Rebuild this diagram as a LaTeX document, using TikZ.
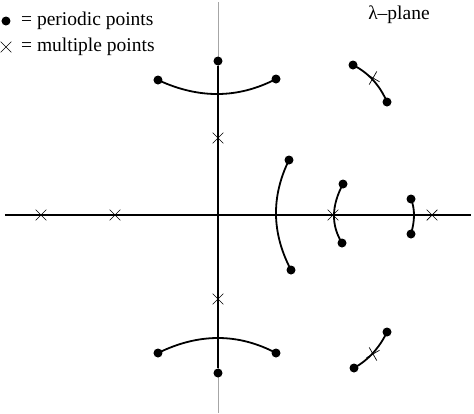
\documentclass[tikz,border=0pt]{standalone}
\usepackage{fontspec}
\setmainfont{Liberation Serif}
\usetikzlibrary{shapes.misc}
\begin{document}
\begin{tikzpicture}[x=1pt,y=1pt,
  dot/.style={circle,fill,inner sep=0pt,minimum size=9pt},
  mult/.style={cross out,draw,inner sep=0pt,minimum size=10pt,line width=0.7pt},
  curve/.style={line width=1.8pt},
  lbl/.style={font=\fontsize{19.5}{22}\selectfont,inner sep=0pt}]
\useasboundingbox (-218,-198) rectangle (256,215);

% axes
\coordinate (ytop) at (0,213);
\coordinate (ybot) at (0,-198);
\coordinate (xleft) at (-213,0);
\coordinate (xright) at (253,0);
\draw [gray!70, line width=0.8pt] (ytop) -- (ybot);
\draw [curve] (xleft) -- (xright);

% periodic points
\node [dot] (n) at (0,154) {};
\node [dot] (s) at (0,-158) {};
\node [dot] (ua) at (-60,135) {};
\node [dot] (ub) at (58,136) {};
\node [dot] (la) at (-60,-138) {};
\node [dot] (lb) at (58,-138) {};
\node [dot] (ba) at (71,55) {};
\node [dot] (bb) at (73,-55) {};
\node [dot] (ma) at (125,31) {};
\node [dot] (mb) at (124,-28) {};
\node [dot] (ra) at (193,16) {};
\node [dot] (rb) at (193,-19) {};
\node [dot] (qa) at (135,150) {};
\node [dot] (qb) at (169,113) {};
\node [dot] (wa) at (136,-153) {};
\node [dot] (wb) at (169,-117) {};

\draw [curve] (n) -- (s);

% arcs
\draw [curve] (ua.center) .. controls (-19.3,116) and (20,116.3) .. (ub.center);
\draw [curve] (la.center) .. controls (-19.3,-118) and (20,-118) .. (lb.center);
\draw [curve] (ba.center) .. controls (53,18.3) and (53.7,-18.3) .. (bb.center);
\draw [curve] (ma.center) .. controls (113.3,9.3) and (113,-10.3) .. (mb.center);
\draw [curve] (ra.center) .. controls (197,6.3) and (197,-5.3) .. (rb.center);
\draw [curve] (qa.center) .. controls (150.3,142.3) and (161.7,130) .. (qb.center);
\draw [curve] (wa.center) .. controls (150.3,-145) and (161.3,-133) .. (wb.center);

% multiple points
\node [mult] (c1) at (0,77) {};
\node [mult] (c2) at (0,-84) {};
\node [mult] (c3) at (-177,0) {};
\node [mult] (c4) at (-103,0) {};
\node [mult] (c5) at (115,0) {};
\node [mult] (c6) at (214,0) {};
\node [mult, rotate=15] (c7) at (155,137) {};
\node [mult, rotate=-15] (c8) at (155,-139) {};

% legend
\node [dot] (kdot) at (-212,194) {};
\node [mult] (kx) at (-212,168) {};
\node [lbl, right] (kper) at (-197,194) {= periodic points};
\node [lbl, right] (kmul) at (-197,168) {= multiple points};
\node [lbl] (plane) at (181,200) {λ--plane};

\end{tikzpicture}
\end{document}
